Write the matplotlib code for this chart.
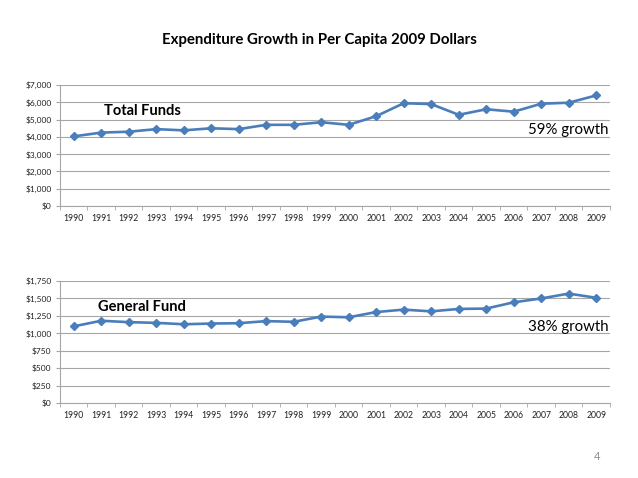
import matplotlib.pyplot as plt
from matplotlib.ticker import FuncFormatter, MultipleLocator

plt.rcParams["font.family"] = ["Lato", "DejaVu Sans"]

years = list(range(1990, 2010))
total_funds = [4030, 4250, 4300, 4450, 4380, 4500, 4450, 4700, 4700, 4850,
               4700, 5200, 5950, 5900, 5280, 5600, 5460, 5920, 5980, 6400]
general_fund = [1100, 1180, 1160, 1150, 1130, 1140, 1145, 1175, 1165, 1240,
                1230, 1305, 1340, 1315, 1350, 1355, 1445, 1500, 1570, 1510]

LINE = "#4a7ebb"
GRID = "#a6a6a6"


def styleAxis(ax, values, ymax, step, label, labelX, growth):
    x = range(len(years))
    ax.plot(x, values, color=LINE, lw=1.9, marker="D", ms=3.6, zorder=3)
    ax.set_xlim(-0.5, len(years) - 0.5)
    ax.set_ylim(0, ymax)
    ax.yaxis.set_major_locator(MultipleLocator(step))
    ax.yaxis.set_major_formatter(FuncFormatter(lambda v, p: f"${v:,.0f}"))
    ax.set_xticks(list(x))
    ax.set_xticklabels([str(y) for y in years])
    ax.set_xticks([i + 0.5 for i in range(-1, len(years))], minor=True)
    ax.tick_params(axis="x", which="major", length=0, labelsize=6.2, pad=6,
                   labelcolor="#222222")
    ax.tick_params(axis="x", which="minor", length=3, color=GRID, direction="out")
    ax.tick_params(axis="y", length=3, color=GRID, labelsize=6, pad=3,
                   labelcolor="#222222")
    ax.grid(axis="y", color=GRID, lw=0.8)
    ax.set_axisbelow(True)
    for s in ["top", "right"]:
        ax.spines[s].set_visible(False)
    ax.spines["left"].set_color(GRID)
    ax.spines["bottom"].set_color(GRID)
    ax.text(labelX, 0.785, label, transform=ax.transAxes, fontsize=10.5,
            fontweight="bold", va="center", ha="left")
    ax.text(0.998, 0.625, growth, transform=ax.transAxes, fontsize=10.8,
            va="center", ha="right")


fig = plt.figure(figsize=(6.38, 4.78), dpi=100)
fig.text(0.5, 0.916, "Expenditure Growth in Per Capita 2009 Dollars",
         ha="center", va="center", fontsize=10.8, fontweight="bold")

ax1 = fig.add_axes([0.094, 0.569, 0.862, 0.253])
styleAxis(ax1, total_funds, 7000, 1000, "Total Funds", 0.08, "59% growth")

ax2 = fig.add_axes([0.094, 0.157, 0.862, 0.255])
styleAxis(ax2, general_fund, 1750, 250, "General Fund", 0.07, "38% growth")

fig.text(0.936, 0.044, "4", ha="center", va="center", fontsize=8, color="#8c8c8c")

fig.savefig("out.png", dpi=100)
